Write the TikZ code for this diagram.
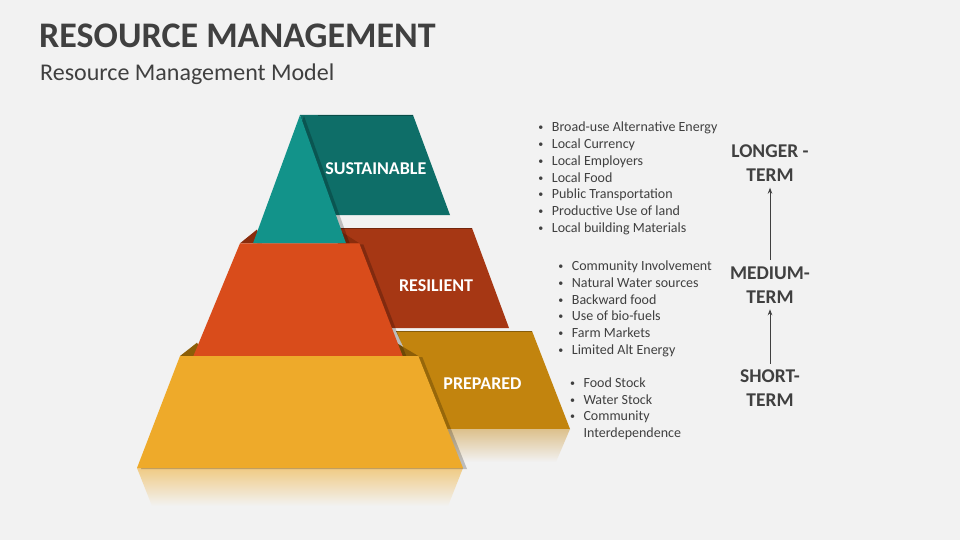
\documentclass[tikz,border=0pt]{standalone}
\usepackage{fontspec}
\setmainfont{Carlito}
\usetikzlibrary{arrows.meta}
\definecolor{bg}{HTML}{F2F2F2}
\definecolor{ink}{HTML}{404040}
\definecolor{tealfront}{HTML}{12938A}
\definecolor{tealback}{HTML}{0E6E68}
\definecolor{redfront}{HTML}{D94C1B}
\definecolor{redback}{HTML}{A63714}
\definecolor{redflap}{HTML}{8A2C0C}
\definecolor{goldfront}{HTML}{EEAA2A}
\definecolor{goldback}{HTML}{C2840E}
\definecolor{goldflap}{HTML}{8C5E08}
\newcommand{\bul}{\makebox[0pt][r]{\raisebox{1pt}{\fontsize{10}{10}\selectfont•}\hspace{8.5pt}}}
\begin{document}
\begin{tikzpicture}
      [x=1pt,y=-1pt,every node/.style={inner sep=0pt, text=ink},
       item/.style={anchor=base west, font=\fontsize{14}{16}\selectfont},
       level/.style={anchor=base, text=white, font=\fontsize{18}{20}\selectfont\bfseries},
       term/.style={anchor=north, align=center, font=\fontsize{19.5}{23.5}\selectfont\bfseries},
       shadow/.style={fill=black, opacity=.22},
       rim/.style={draw=black, opacity=.3, line width=1.5pt},
       arrow/.style={draw=ink, line width=.9pt, -{Stealth[length=6pt,width=4.5pt]}, shorten <=6.5pt, shorten >=6pt}]
    \fill[bg] (0,0) rectangle (960,540);
    \useasboundingbox (0,0) rectangle (960,540);

    \node[anchor=base west, font=\fontsize{36}{40}\selectfont\bfseries] (title) at (39,47.3) {RESOURCE MANAGEMENT};
    \node[anchor=base west, font=\fontsize{24}{28}\selectfont] (subtitle) at (40,81) {Resource Management Model};

    \fill[tealback] (300,115) -- (413,115) -- (450,215) -- (330,215) -- cycle;
    \draw[rim] (318,115.5) -- (413,115.5);
    \fill[redback] (330,228) -- (472,228) -- (509,328) -- (380,328) -- cycle;
    \draw[rim] (340,228.5) -- (472,228.5);
    \fill[goldback] (396,331) -- (532,331) -- (570,429) -- (440,429) -- cycle;
    \draw[rim] (396,331.5) -- (532,331.5);

    \shade[top color=goldback!45!bg, bottom color=bg] (447,429) -- (570,429) -- (556,462) -- (455,462) -- cycle;
    \shade[top color=goldfront!55!bg, bottom color=bg] (137,468) -- (463,468) -- (448,506) -- (152,506) -- cycle;

    \fill[redflap] (240,243.3) -- (257,229.5) -- (262,243.3) -- cycle;
    \fill[redflap] (338,229.5) -- (359.3,243.3) -- (340,243.3) -- cycle;
    \fill[shadow, shift={(4,1)}] (300,115) -- (346,243.3) -- (253,243.3) -- cycle;
    \fill[tealfront] (300,115) -- (346,243.3) -- (253,243.3) -- cycle;

    \fill[goldflap] (180,356) -- (197,342.7) -- (205,356) -- cycle;
    \fill[goldflap] (396,342.7) -- (418.3,356) -- (400,356) -- cycle;
    \fill[shadow, shift={(4,1)}] (240,243.3) -- (359.3,243.3) -- (403,357) -- (193,357) -- cycle;
    \fill[redfront] (240,243.3) -- (359.3,243.3) -- (403,357) -- (193,357) -- cycle;

    \fill[shadow, shift={(4,1)}] (180,356) -- (418.3,356) -- (463,468) -- (137,468) -- cycle;
    \fill[goldfront] (180,356) -- (418.3,356) -- (463,468) -- (137,468) -- cycle;

    \node[level] (sustainable) at (375.8,175) {SUSTAINABLE};
    \node[level] (resilient) at (436,291) {RESILIENT};
    \node[level] (prepared) at (482.5,389.3) {PREPARED};

    \foreach \t [count=\i] in {Broad-use Alternative Energy, Local Currency, Local Employers, Local Food,
        Public Transportation, Productive Use of land, Local building Materials}
      \node[item] (long\i) at (551.7,{132+16.7*(\i-1)}) {\bul\t};
    \foreach \t [count=\i] in {Community Involvement, Natural Water sources, Backward food,
        Use of bio-fuels, Farm Markets, Limited Alt Energy}
      \node[item] (mid\i) at (571.7,{270.7+16.7*(\i-1)}) {\bul\t};
    \foreach \t [count=\i] in {Food Stock, Water Stock, Community}
      \node[item] (short\i) at (583.3,{387.3+16.7*(\i-1)}) {\bul\t};
    \node[item] (short4) at (583.3,437.4) {Interdependence};

    \node[term] (longer) at (770,145) {LONGER -\\TERM};
    \node[term] (medium) at (770,266.7) {MEDIUM-\\TERM};
    \node[term] (short) at (770,370) {SHORT-\\TERM};

    \foreach \from/\to in {medium/longer, short/medium}
      \draw[arrow] (\from.north) -- (\to.south);
\end{tikzpicture}
\end{document}
